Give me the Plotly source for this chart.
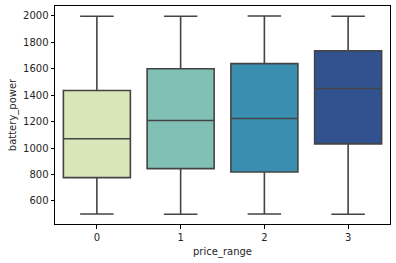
import plotly.graph_objects as go

categories = [0, 1, 2, 3]
lower = [501, 500, 501, 500]
q1 = [776, 844, 819, 1031]
median = [1070, 1208, 1223, 1450]
q3 = [1435, 1599, 1638, 1735]
upper = [1995, 1996, 1998, 1996]
colors = ["#d7e7b8", "#80c0b5", "#3a8eb0", "#32528f"]
y_ticks = [600, 800, 1000, 1200, 1400, 1600, 1800, 2000]

fig = go.Figure()
for i, c in enumerate(categories):
    fig.add_trace(go.Box(
        x=[c], q1=[q1[i]], median=[median[i]], q3=[q3[i]],
        lowerfence=[lower[i]], upperfence=[upper[i]],
        width=0.8, whiskerwidth=0.5,
        fillcolor=colors[i],
        line=dict(color="#444444", width=1.6),
        boxpoints=False, showlegend=False, hoverinfo="skip",
    ))

font = dict(family="DejaVu Sans", size=10, color="#262626")
fig.update_layout(
    width=396, height=263,
    margin=dict(l=55, r=6, t=6, b=39),
    paper_bgcolor="white", plot_bgcolor="white",
    font=font, boxmode="overlay",
)
fig.update_xaxes(
    range=[-0.5, 3.5], tickvals=categories, ticktext=[str(c) for c in categories],
    showline=True, mirror=True, linecolor="black", linewidth=1,
    ticks="outside", ticklen=3.5, tickcolor="black", showgrid=False, zeroline=False,
    title=dict(text="price_range", font=font, standoff=6),
)
fig.update_yaxes(
    range=[426, 2073], tickvals=y_ticks,
    showline=True, mirror=True, linecolor="black", linewidth=1,
    ticks="outside", ticklen=3.5, tickcolor="black", showgrid=False, zeroline=False,
    title=dict(text="battery_power", font=font, standoff=4),
)
fig.write_html("out.html")
